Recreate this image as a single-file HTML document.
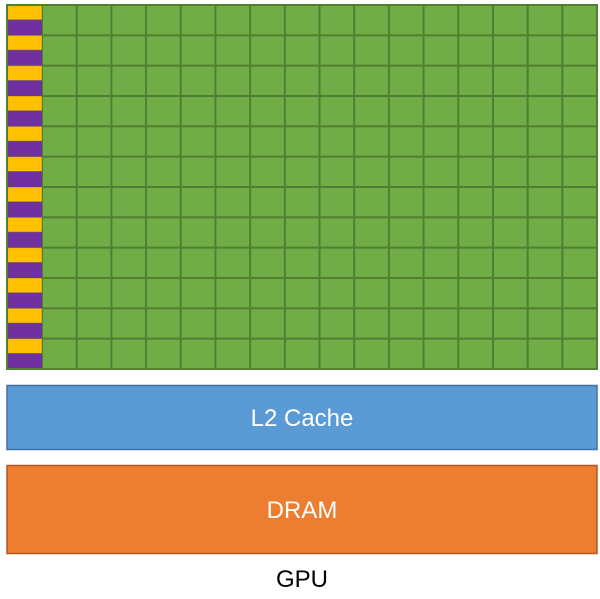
<!DOCTYPE html>
<html><head><style>body{margin:0;background:#fff;width:600px;height:594px;overflow:hidden}</style></head>
<body>
<svg width="600" height="594" xmlns="http://www.w3.org/2000/svg" font-family="Liberation Sans, sans-serif">
<defs>
<pattern id="st" x="7" y="5" width="35" height="30.33" patternUnits="userSpaceOnUse">
<rect x="0" y="0" width="35" height="15.17" fill="#ffc000" stroke="#c9970a" stroke-width="1"/>
<rect x="0" y="15.17" width="35" height="15.17" fill="#7030a0" stroke="#5a3a8a" stroke-width="1"/>
</pattern>
<pattern id="gr" x="42" y="5" width="34.69" height="30.33" patternUnits="userSpaceOnUse">
<rect x="0" y="0" width="34.69" height="30.33" fill="#70ad47" stroke="#507e32" stroke-width="2"/>
</pattern>
</defs>
<rect x="42" y="5" width="555" height="364" fill="url(#gr)"/>
<rect x="7" y="5" width="35" height="364" fill="url(#st)"/>
<rect x="7" y="5" width="590" height="364" fill="none" stroke="#507e32" stroke-width="2"/>
<rect x="7" y="385.5" width="590" height="64" fill="#5b9bd5" stroke="#41719c" stroke-width="1.5"/>
<text x="302" y="426" font-size="24" fill="#fff" text-anchor="middle">L2 Cache</text>
<rect x="7" y="465.5" width="590" height="88" fill="#ed7d31" stroke="#ae5a21" stroke-width="1.5"/>
<text x="302" y="518" font-size="24" fill="#fff" text-anchor="middle">DRAM</text>
<text x="302" y="587" font-size="24" fill="#000" text-anchor="middle">GPU</text>
</svg>
</body></html>
